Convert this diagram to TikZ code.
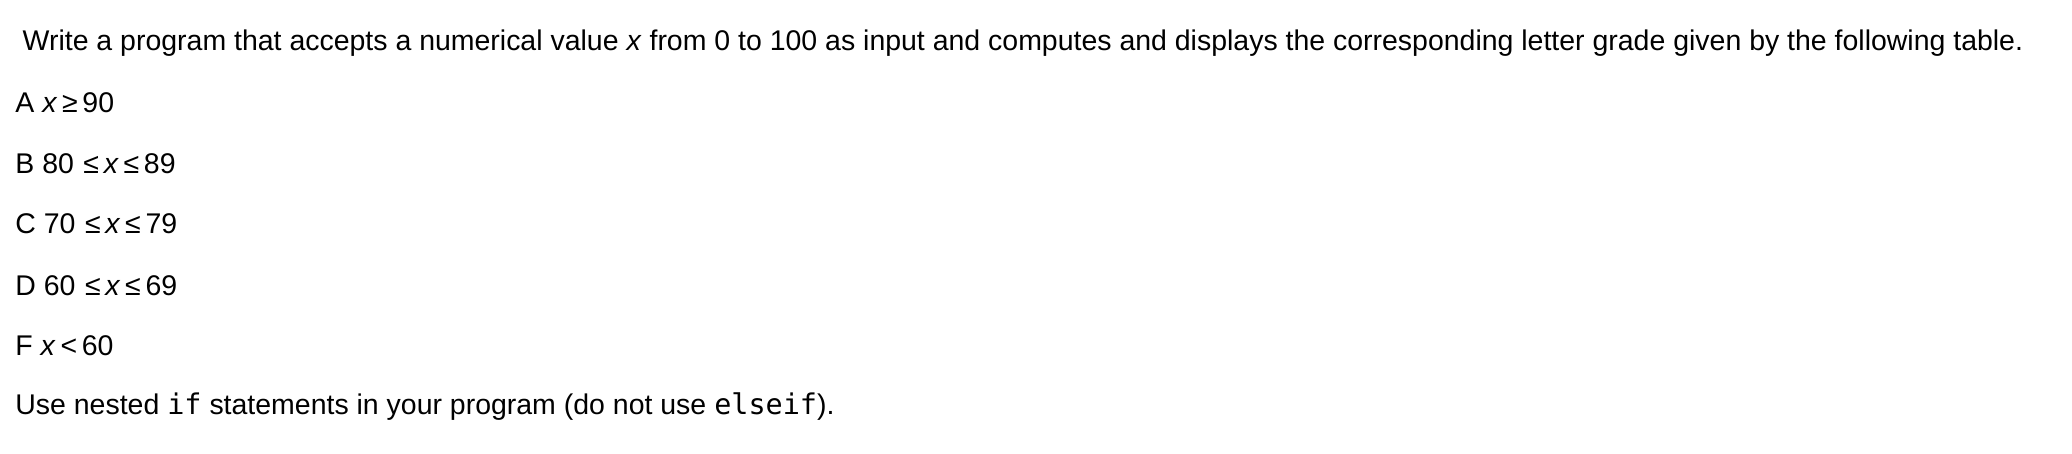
\documentclass[tikz,border=0pt]{standalone}
\usepackage{fontspec}
\setmainfont{Liberation Sans}
\setmonofont{DejaVu Sans Mono}
\begin{document}
\begin{tikzpicture}[x=1cm,y=1cm,txt/.style={anchor=west,inner sep=0pt,font=\fontsize{8.1pt}{10pt}\selectfont}]
\useasboundingbox (0,0) rectangle (20.72,-4.54);
\node[txt] (l0) at (0.22,-0.43) {Write a program that accepts a numerical value \textit{x} from 0 to 100 as input and computes and displays the corresponding letter grade given by the following table.};
\node[txt] (l1) at (0.147,-1.03) {A \textit{x}\,≥\,90};
\node[txt] (l2) at (0.147,-1.64) {B 80\,\,≤\,\textit{x}\,≤\,89};
\node[txt] (l3) at (0.147,-2.24) {C 70\,\,≤\,\textit{x}\,≤\,79};
\node[txt] (l4) at (0.147,-2.86) {D 60\,\,≤\,\textit{x}\,≤\,69};
\node[txt] (l5) at (0.147,-3.46) {F \textit{x}\,<\,60};
\node[txt] (l6) at (0.147,-4.07) {Use nested \texttt{if} statements in your program (do not use \texttt{elseif}).};
\end{tikzpicture}
\end{document}
